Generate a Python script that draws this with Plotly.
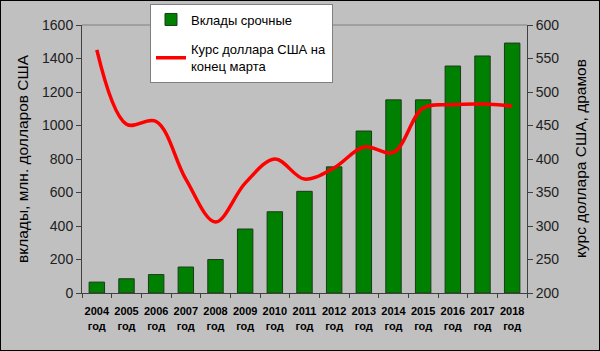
import plotly.graph_objects as go

years = ["2004", "2005", "2006", "2007", "2008", "2009", "2010", "2011",
         "2012", "2013", "2014", "2015", "2016", "2017", "2018"]
x_labels = [f"<b>{y}<br>год</b>" for y in years]
deposits = [65, 85, 110, 155, 200, 382, 485, 607, 753, 967, 1153, 1153, 1355, 1415, 1492]
usd_rate = [563, 452, 456, 370, 306, 364, 400, 370, 387, 418, 410, 476, 481, 482, 479]
left_title = "вклады, млн. долларов США"
right_title = "курс доллара США, драмов"

fig = go.Figure()
fig.add_trace(go.Bar(
    x=x_labels, y=deposits, name="Вклады срочные",
    marker=dict(color="#008000", line=dict(color="#1a3a1a", width=1)),
    width=0.52, legendgroup="a", yaxis="y"))
fig.add_trace(go.Scatter(
    x=x_labels, y=usd_rate, name="Курс доллара США на<br>конец марта",
    mode="lines", line=dict(color="#ff0000", width=3.5, shape="spline", smoothing=1.0),
    legendgroup="b", yaxis="y2"))

font = "Liberation Sans, Arial, sans-serif"
fig.update_layout(
    width=600, height=351,
    margin=dict(l=82, r=73, t=25, b=58, autoexpand=False),
    paper_bgcolor="#c0c0c0", plot_bgcolor="#c0c0c0",
    font=dict(family=font, color="#000000"),
    showlegend=True,
    legend=dict(xref="container", yref="container", x=0.25, y=0.99,
                xanchor="left", yanchor="top",
                bgcolor="#ffffff", bordercolor="#808080", borderwidth=1,
                font=dict(size=13, color="#000000"), tracegroupgap=10,
                itemwidth=30),
    xaxis=dict(showgrid=False, showline=True, linecolor="#404040", linewidth=1,
               ticks="outside", tickson="boundaries", ticklen=4, tickcolor="#404040",
               tickangle=0, ticklabelstandoff=8,
               tickfont=dict(size=11, color="#000000"), range=[-0.5, 14.5]),
    yaxis=dict(range=[0, 1600], dtick=200, showgrid=False, showline=True,
               linecolor="#404040", linewidth=1, ticks="outside", ticklen=5,
               tickcolor="#404040", tickfont=dict(size=14, color="#202020"),
               zeroline=False),
    yaxis2=dict(range=[200, 600], dtick=50, overlaying="y", side="right",
                showgrid=False, showline=True, linecolor="#404040", linewidth=1,
                ticks="outside", ticklen=5, tickcolor="#404040",
                tickfont=dict(size=14, color="#202020"), zeroline=False),
    annotations=[
        dict(text=left_title, xref="paper", yref="paper", x=(22 - 82) / 445, y=0.5,
             textangle=-90, showarrow=False, xanchor="center", yanchor="middle",
             font=dict(size=15.5, color="#000000")),
        dict(text=right_title, xref="paper", yref="paper", x=(580 - 82) / 445, y=0.5,
             textangle=-90, showarrow=False, xanchor="center", yanchor="middle",
             font=dict(size=15.5, color="#000000")),
    ],
    shapes=[
        dict(type="line", xref="paper", yref="paper", x0=0, x1=1, y0=1, y1=1,
             line=dict(color="#808080", width=1)),
        dict(type="rect", xref="paper", yref="paper", x0=-82/445, x1=1+73/445,
             y0=-58/268, y1=1+25/268, line=dict(color="#000000", width=2)),
    ],
)

fig.write_html("out.html")
